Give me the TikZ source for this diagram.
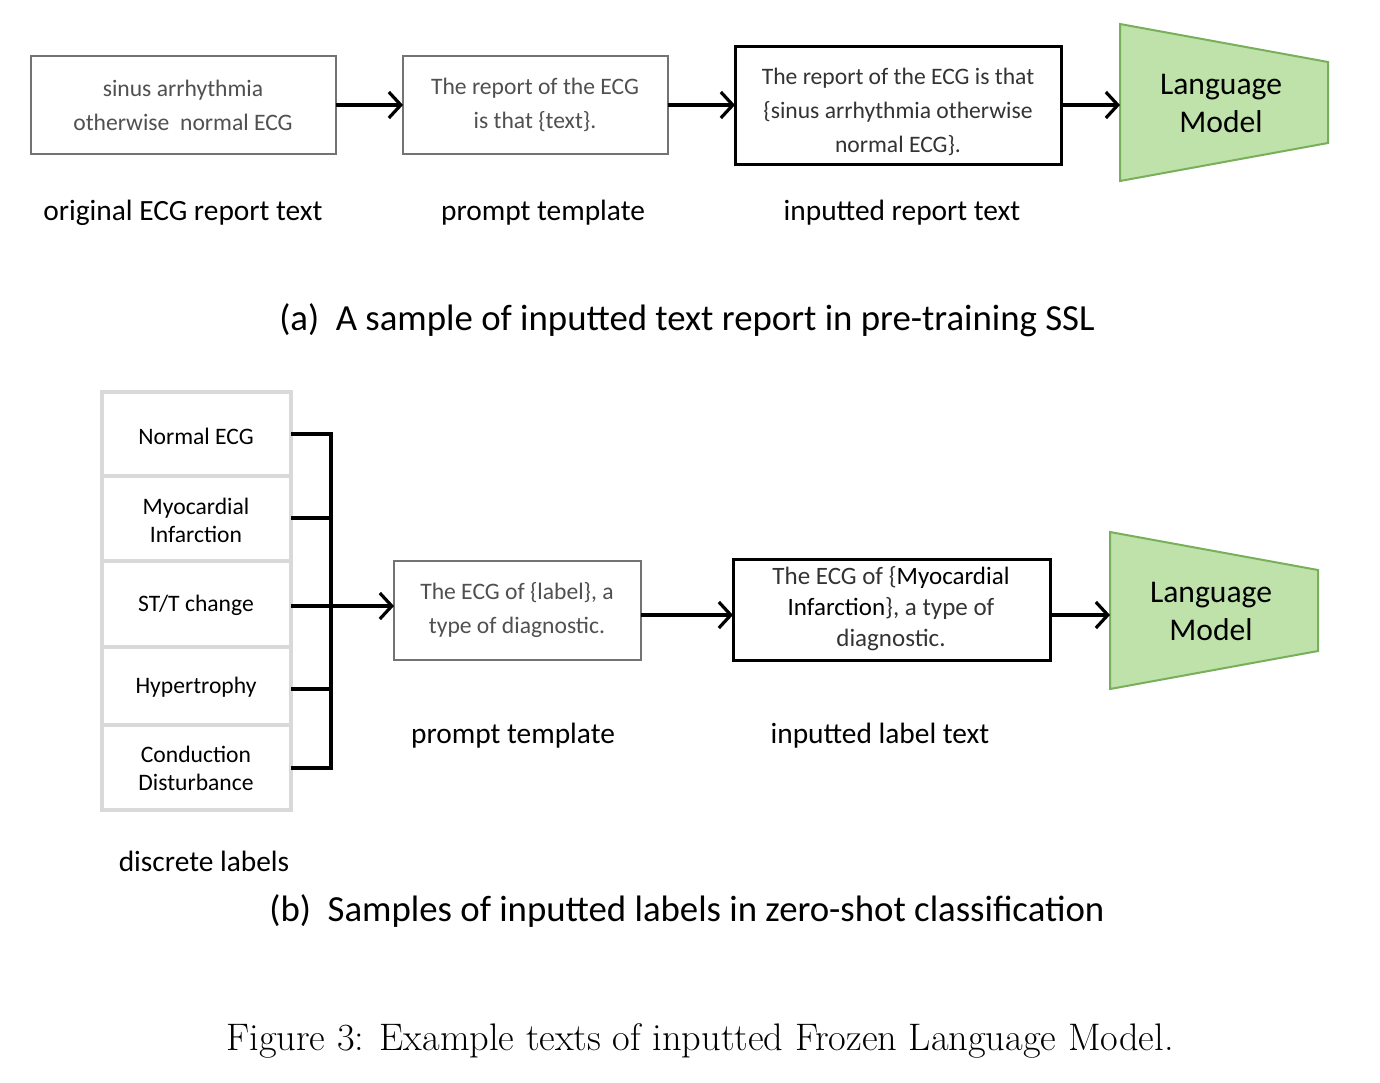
\documentclass[tikz,border=0pt]{standalone}
\usepackage{fontspec}
\setmainfont{Carlito}
\newfontfamily\lmserif{Latin Modern Roman}
\usetikzlibrary{arrows.meta}
\definecolor{lmgreen}{RGB}{190,226,170}
\definecolor{lmedge}{RGB}{120,175,90}
\definecolor{boxtext}{RGB}{80,80,80}
\begin{document}
\begin{tikzpicture}[x=0.5pt,y=-0.5pt,text centered]
\tikzset{
  graybox/.style={draw=black!55,line width=1pt,fill=white},
  blackbox/.style={draw=black,line width=1.5pt,fill=white},
  labelbox/.style={draw=black!15,line width=2pt,fill=white},
  boxtxt/.style={align=center,font=\fontsize{11.8}{17}\selectfont,text=boxtext},
  undertxt/.style={font=\fontsize{14.7}{17}\selectfont},
  captxt/.style={font=\fontsize{18.4}{21}\selectfont},
  lmtxt/.style={align=center,font=\fontsize{15.8}{19}\selectfont},
  arr/.style={-{Straight Barb[length=6pt,width=13pt]},line width=1.6pt},
  lmshape/.style={fill=lmgreen,draw=lmedge,line width=1pt}
}
\useasboundingbox (0,0) rectangle (1380,1082);

%% (a) pre-training
\draw[graybox] (31,56) rectangle (336,154);
\node[boxtxt] (orig) at (183,105) {sinus arrhythmia\\otherwise\ \ normal ECG};
\draw[graybox] (403,56) rectangle (668,154);
\node[boxtxt] (tmpla) at (535,105) {The report of the ECG\\is that \{text\}.};
\draw[blackbox] (735,46) rectangle (1061,164);
\node[boxtxt,text=black!80] (inpa) at (898,112) {The report of the ECG is that\\\{sinus arrhythmia otherwise\\normal ECG\}.};
\draw[lmshape] (1120,24) -- (1328,62) -- (1328,143) -- (1120,181) -- cycle;
\node[lmtxt] (lma) at (1221,103) {Language\\Model};
\coordinate (a1) at (336,105);
\coordinate (a2) at (403,105);
\coordinate (a3) at (668,105);
\coordinate (a4) at (735,105);
\coordinate (a5) at (1061,105);
\coordinate (a6) at (1120,105);
\draw[arr] (a1) -- (a2);
\draw[arr] (a3) -- (a4);
\draw[arr] (a5) -- (a6);
\node[undertxt] (origlbl) at (183,213) {original ECG report text};
\node[undertxt] (tmpllbl) at (543,213) {prompt template};
\node[undertxt] (inplbl) at (902,213) {inputted report text};
\node[captxt] (capa) at (687,320) {(a)\ \ A sample of inputted text report in pre-training SSL};

%% (b) zero-shot
\draw[labelbox] (102,392) rectangle (291,476);
\node[boxtxt,text=black] (l1) at (196,436) {Normal ECG};
\draw[labelbox] (102,476) rectangle (291,561);
\node[boxtxt,text=black,font=\fontsize{11.8}{14}\selectfont] (l2) at (196,520) {Myocardial\\Infarction};
\draw[labelbox] (102,561) rectangle (291,647);
\node[boxtxt,text=black] (l3) at (196,605) {ST/T change};
\draw[labelbox] (102,647) rectangle (291,725);
\node[boxtxt,text=black] (l4) at (196,687) {Hypertrophy};
\draw[labelbox] (102,725) rectangle (291,810);
\node[boxtxt,text=black,font=\fontsize{11.8}{14}\selectfont] (l5) at (196,768) {Conduction\\Disturbance};
\coordinate (b1) at (331,434);
\coordinate (b5) at (331,768);
\coordinate (bm) at (331,606);
\draw[line width=1.7pt] (291,434) -- (b1) -- (b5) -- (291,768);
\draw[line width=1.7pt] (291,518) -- (331,518);
\draw[line width=1.7pt] (291,606) -- (331,606);
\draw[line width=1.7pt] (291,689) -- (331,689);
\draw[graybox] (394,561) rectangle (641,660);
\node[boxtxt] (tmplb) at (517,610) {The ECG of \{label\}, a\\type of diagnostic.};
\draw[blackbox] (733,559) rectangle (1050,660);
\node[boxtxt,text=black!80,font=\fontsize{12.5}{15.5}\selectfont] (inpb) at (891,609) {The ECG of \{\textcolor{black}{Myocardial}\\\textcolor{black}{Infarction}\}, a type of\\diagnostic.};
\draw[lmshape] (1110,532) -- (1318,570) -- (1318,651) -- (1110,689) -- cycle;
\node[lmtxt] (lmb) at (1211,611) {Language\\Model};
\coordinate (b2) at (394,606);
\coordinate (b3) at (641,615);
\coordinate (b4) at (733,615);
\coordinate (b6) at (1050,615);
\coordinate (b7) at (1110,615);
\draw[arr] (bm) -- (b2);
\draw[arr] (b3) -- (b4);
\draw[arr] (b6) -- (b7);
\node[undertxt] (tmpllblb) at (513,736) {prompt template};
\node[undertxt] (inplblb) at (880,736) {inputted label text};
\node[undertxt] (disclbl) at (204,861) {discrete labels};
\node[captxt] (capb) at (687,911) {(b)\ \ Samples of inputted labels in zero-shot classification};

\node[font=\lmserif\fontsize{19.2}{22}\selectfont] (fig) at (700,1041) {Figure 3: Example texts of inputted Frozen Language Model.};
\end{tikzpicture}
\end{document}
